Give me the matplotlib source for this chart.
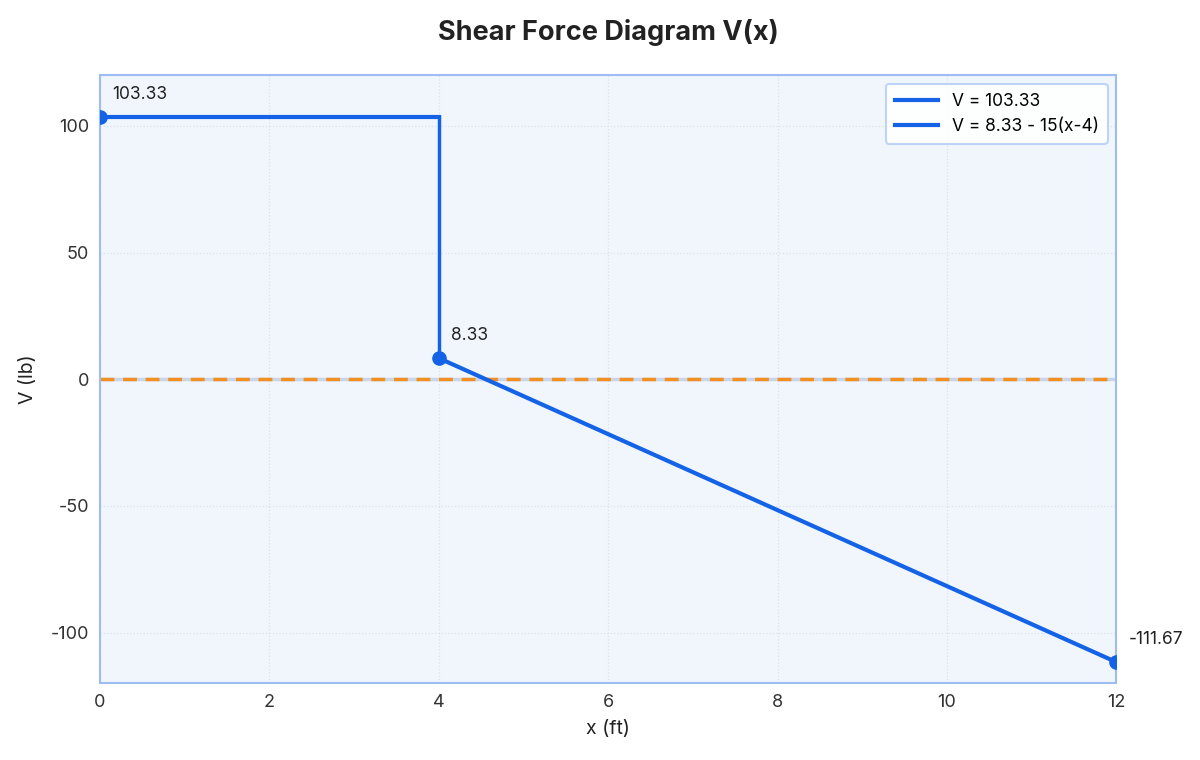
import matplotlib
matplotlib.use("Agg")
import matplotlib.pyplot as plt

plt.rcParams['font.family'] = ['Inter', 'DejaVu Sans']
plt.rcParams['axes.unicode_minus'] = False

# segment 1: constant shear
x1 = [0, 4]
v1 = [103.33, 103.33]
# jump at x=4
x_jump = [4, 4]
v_jump = [103.33, 8.33]
# segment 2: V = 8.33 - 15(x-4)
x2 = [4, 12]
v2 = [8.33, -111.67]

point_x = [0, 4, 12]
point_v = [103.33, 8.33, -111.67]
point_labels = ["103.33", "8.33", "-111.67"]

labels = ["V = 103.33", "V = 8.33 - 15(x-4)"]

blue = "#1463e6"
fig = plt.figure(figsize=(12, 7.6), dpi=100)
ax = fig.add_axes([0.0833, 0.101, 0.847, 0.8])
ax.set_facecolor("#f1f6fd")

ax.grid(True, linestyle=":", color="#dbe2ec", linewidth=0.9)
ax.set_axisbelow(True)

ax.axhline(0, color="#c9d6ea", linewidth=2.5, zorder=2)
ax.axhline(0, color="#f28f22", linewidth=2.5, linestyle=(0, (4, 2.5)), zorder=2)

ax.plot(x1, v1, color=blue, linewidth=3, label=labels[0], zorder=3)
ax.plot(x_jump, v_jump, color=blue, linewidth=2.5, zorder=3)
ax.plot(x2, v2, color=blue, linewidth=3, label=labels[1], zorder=3)
ax.plot(point_x, point_v, "o", color=blue, markersize=9.5, zorder=4)

for px, pv, lab in zip(point_x, point_v, point_labels):
    ax.annotate(lab, (px, pv), xytext=(9, 10.5), textcoords="offset points",
                ha="left", va="bottom", fontsize=12.5, color="#222222",
                annotation_clip=False)

ax.set_xlim(0, 12)
ax.set_ylim(-120, 120)
ax.set_xticks([0, 2, 4, 6, 8, 10, 12])
ax.set_yticks([-100, -50, 0, 50, 100])
ax.tick_params(length=0, labelsize=13, colors="#333333", pad=8)

for s in ax.spines.values():
    s.set_color("#9dbdf2")
    s.set_linewidth(1.5)

ax.set_xlabel("x (ft)", fontsize=14, color="#222222", labelpad=6)
ax.set_ylabel("V (lb)", fontsize=14, color="#222222", labelpad=10)
fig.text(0.507, 0.957, "Shear Force Diagram V(x)", fontsize=19.5,
         fontweight="bold", color="#222222", ha="center", va="center")

leg = ax.legend(loc="upper right", fontsize=12.5, frameon=True, fancybox=True,
                handlelength=2.5, borderpad=0.5)
leg.get_frame().set_edgecolor("#b8cff4")
leg.get_frame().set_facecolor("white")
leg.get_frame().set_alpha(0.9)
leg.get_frame().set_linewidth(1.5)

fig.savefig("out.png", dpi=100)
